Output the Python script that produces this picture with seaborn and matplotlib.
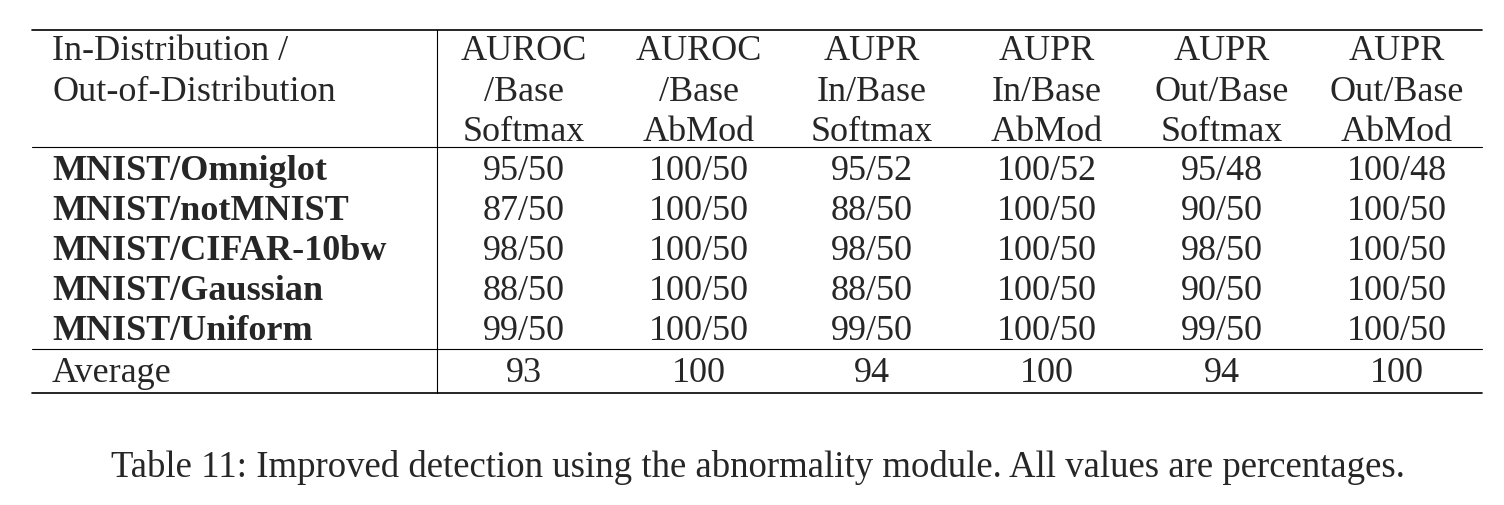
import matplotlib
matplotlib.use("Agg")
import matplotlib.pyplot as plt
import seaborn as sns

sns.set_style("white")
plt.rcParams['font.family'] = ['Liberation Serif', 'DejaVu Serif']

header_left = ["In-Distribution /", "Out-of-Distribution"]
col_headers = [["AUROC", "/Base", "Softmax"], ["AUROC", "/Base", "AbMod"],
               ["AUPR", "In/Base", "Softmax"], ["AUPR", "In/Base", "AbMod"],
               ["AUPR", "Out/Base", "Softmax"], ["AUPR", "Out/Base", "AbMod"]]
row_labels = ["MNIST/Omniglot", "MNIST/notMNIST", "MNIST/CIFAR-10bw", "MNIST/Gaussian", "MNIST/Uniform"]
values = [["95/50", "100/50", "95/52", "100/52", "95/48", "100/48"],
          ["87/50", "100/50", "88/50", "100/50", "90/50", "100/50"],
          ["98/50", "100/50", "98/50", "100/50", "98/50", "100/50"],
          ["88/50", "100/50", "88/50", "100/50", "90/50", "100/50"],
          ["99/50", "100/50", "99/50", "100/50", "99/50", "100/50"]]
avg_label = "Average"
averages = ["93", "100", "94", "100", "94", "100"]
caption = "Table 11: Improved detection using the abnormality module. All values are percentages."

W, H = 1504, 506
fig = plt.figure(figsize=(W/100, H/100), dpi=100)
ax = fig.add_axes([0, 0, 1, 1])
ax.set_xlim(0, W); ax.set_ylim(H, 0); ax.axis("off")

fs = 26
col_x = [524, 699, 872, 1047, 1222, 1397]
hdr_y = [51, 92, 132]
row_y = [171, 212, 252, 292, 332]

for lw_y in [31, 394]:
    ax.plot([32, 1482], [lw_y, lw_y], color="black", lw=1.2)
for lw_y in [148, 350]:
    ax.plot([32, 1482], [lw_y, lw_y], color="black", lw=0.8)
ax.plot([437, 437], [31, 394], color="black", lw=0.8)

for i, t in enumerate(header_left):
    ax.text(52, hdr_y[i], t, fontsize=fs, va="center", ha="left")
for j, hdr in enumerate(col_headers):
    for i, t in enumerate(hdr):
        ax.text(col_x[j], hdr_y[i], t, fontsize=fs, va="center", ha="center")
for r, lab in enumerate(row_labels):
    ax.text(52, row_y[r], lab, fontsize=fs, va="center", ha="left", fontweight="bold")
    for j, v in enumerate(values[r]):
        ax.text(col_x[j], row_y[r], v, fontsize=fs, va="center", ha="center")
ax.text(52, 373, avg_label, fontsize=fs, va="center", ha="left")
for j, v in enumerate(averages):
    ax.text(col_x[j], 373, v, fontsize=fs, va="center", ha="center")
ax.text(758, 468, caption, fontsize=26.5, va="center", ha="center")

fig.savefig("out.png", dpi=100)
